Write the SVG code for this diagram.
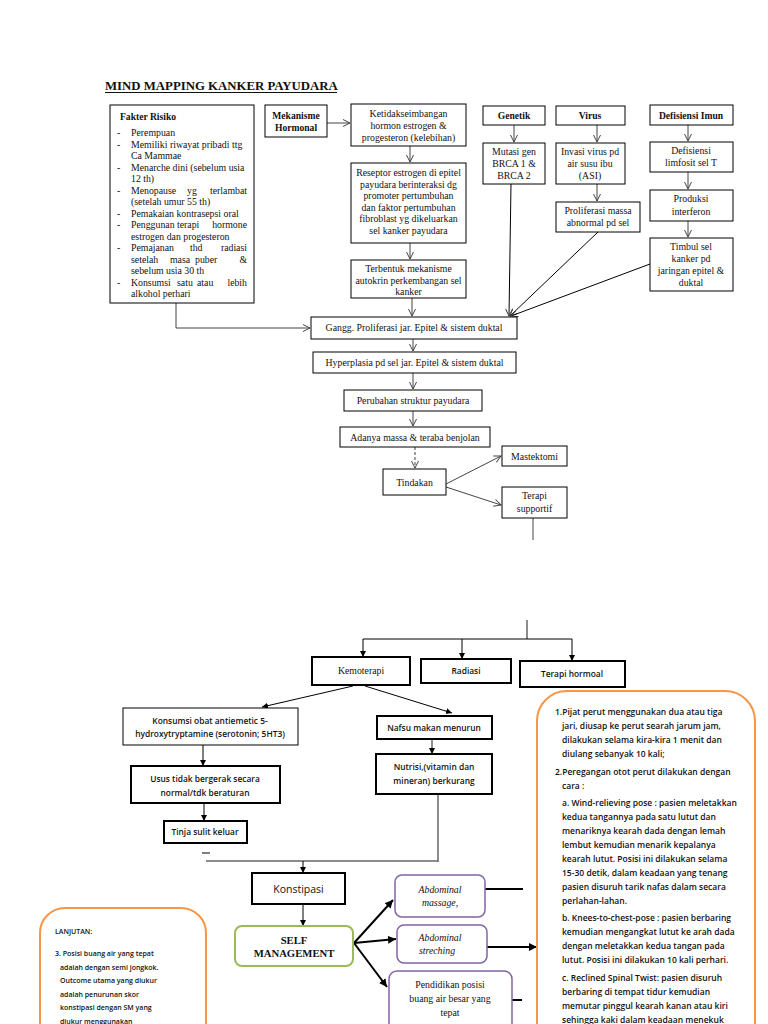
<svg xmlns="http://www.w3.org/2000/svg" width="768" height="1024" viewBox="0 0 768 1024">
<defs>
<style>
.bx{fill:#fff;stroke:#000;stroke-width:1}
.bx2{fill:#fff;stroke:#000;stroke-width:2}
.s{font-family:"Liberation Serif",serif;font-size:9.8px;fill:#111}
.sb{font-family:"Liberation Serif",serif;font-size:9.6px;font-weight:bold;fill:#111}
.c{text-anchor:middle}
.k{font-family:"Open Sans","Liberation Sans",sans-serif;font-weight:600;font-size:8.4px;fill:#111}
.ko{font-family:"Open Sans","Liberation Sans",sans-serif;font-weight:600;font-size:8.5px;fill:#111}
.kl{font-family:"Open Sans","Liberation Sans",sans-serif;font-weight:600;font-size:7px;fill:#111}
.ln{fill:none;stroke:#444;stroke-width:1}
.lb{fill:none;stroke:#000;stroke-width:1}
.lg{fill:none;stroke:#666;stroke-width:1.5}
.lt{fill:none;stroke:#000;stroke-width:2}
.or{fill:#fff;stroke:#f79646;stroke-width:2}
.pu{fill:#fff;stroke:#8064a2;stroke-width:1.5}
</style>
<marker id="av" markerUnits="userSpaceOnUse" markerWidth="10" markerHeight="10" refX="7" refY="4" orient="auto">
<path d="M0,0.5 L7,4 L0,7.5" fill="none" stroke="#444" stroke-width="1"/>
</marker>
<marker id="af" markerUnits="userSpaceOnUse" markerWidth="8" markerHeight="8" refX="6" refY="3" orient="auto">
<path d="M0,0 L6,3 L0,6 z" fill="#000"/>
</marker>
<marker id="ab" markerUnits="userSpaceOnUse" markerWidth="10" markerHeight="10" refX="8" refY="4" orient="auto">
<path d="M0,0 L8,4 L0,8 z" fill="#000"/>
</marker>
</defs>
<rect width="768" height="1024" fill="#fff"/>

<g id="title">
<text x="105" y="90" font-family="Liberation Serif, serif" font-size="12.8" font-weight="bold" fill="#111">MIND MAPPING KANKER PAYUDARA</text>
<line x1="105" y1="92.5" x2="337" y2="92.5" stroke="#111" stroke-width="1"/>
</g>

<g id="connectors">
<polyline class="ln" points="176,303 176,328 310,328" marker-end="url(#av)"/>
<line class="ln" x1="327" y1="123" x2="350" y2="123" marker-end="url(#av)"/>
<line class="ln" x1="410" y1="146" x2="410" y2="162" marker-end="url(#av)"/>
<line class="ln" x1="410" y1="243" x2="410" y2="259" marker-end="url(#av)"/>
<line class="ln" x1="412" y1="298" x2="412" y2="316" marker-end="url(#av)"/>
<line class="ln" x1="413" y1="339" x2="413" y2="351" marker-end="url(#av)"/>
<line class="ln" x1="413" y1="373" x2="413" y2="389" marker-end="url(#av)"/>
<line class="ln" x1="413" y1="411" x2="413" y2="426" marker-end="url(#av)"/>
<line class="ln" x1="415" y1="447" x2="415" y2="468" stroke-dasharray="3,2" marker-end="url(#av)"/>
<line class="ln" x1="446" y1="484" x2="501" y2="456" marker-end="url(#av)"/>
<line class="ln" x1="446" y1="487" x2="501" y2="505" marker-end="url(#av)"/>
<line class="ln" x1="533" y1="518" x2="533" y2="540"/>
<line class="ln" x1="514" y1="125" x2="514" y2="142" marker-end="url(#av)"/>
<line class="ln" x1="597" y1="125" x2="597" y2="142" marker-end="url(#av)"/>
<line class="ln" x1="597" y1="184" x2="597" y2="201" marker-end="url(#av)"/>
<line class="ln" x1="688" y1="125" x2="688" y2="141" marker-end="url(#av)"/>
<line class="ln" x1="688" y1="172" x2="688" y2="189" marker-end="url(#av)"/>
<line class="ln" x1="688" y1="221" x2="688" y2="237" marker-end="url(#av)"/>
<line class="lb" x1="511" y1="184" x2="509" y2="316" marker-end="url(#av)"/>
<line class="lb" x1="598" y1="232" x2="510" y2="316" marker-end="url(#av)"/>
<line class="lb" x1="650" y1="264" x2="511" y2="316" marker-end="url(#av)"/>

<line class="lg" x1="527" y1="620" x2="527" y2="639"/>
<line class="lb" x1="363" y1="639" x2="572" y2="639" stroke="#555"/>
<line class="lb" x1="363" y1="639" x2="363" y2="657" marker-end="url(#af)"/>
<line class="lb" x1="462" y1="639" x2="462" y2="659" marker-end="url(#af)"/>
<line class="lb" x1="572" y1="639" x2="572" y2="661" marker-end="url(#af)"/>
<line class="lb" x1="353" y1="686" x2="262" y2="707" marker-end="url(#af)"/>
<line class="lb" x1="365" y1="686" x2="452" y2="713" marker-end="url(#af)"/>
<line class="lb" x1="203" y1="745" x2="203" y2="766" stroke="#333" marker-end="url(#af)"/>
<line class="lb" x1="204" y1="803" x2="204" y2="821" stroke="#333" marker-end="url(#af)"/>
<line class="lg" x1="432" y1="739" x2="432" y2="754" stroke="#999" marker-end="url(#af)"/>
<line class="lg" x1="438" y1="794" x2="438" y2="862"/>
<line class="lg" x1="206" y1="861" x2="438" y2="861"/>
<line class="lb" x1="202" y1="853" x2="210" y2="853"/>
<line class="lb" x1="303" y1="861" x2="303" y2="873" marker-end="url(#af)"/>
<line class="lb" x1="303" y1="904" x2="303" y2="926" stroke-width="1.5" marker-end="url(#af)"/>
<line class="lt" x1="354" y1="943" x2="393" y2="900" marker-end="url(#ab)"/>
<line class="lt" x1="354" y1="943" x2="396" y2="939" marker-end="url(#ab)"/>
<line class="lt" x1="354" y1="943" x2="387" y2="987" marker-end="url(#ab)"/>
<line class="lt" x1="485" y1="889" x2="523" y2="889"/>
<line class="lt" x1="468" y1="947" x2="537" y2="947" marker-end="url(#ab)"/>
<line class="lt" x1="512" y1="1000" x2="522" y2="1000"/>
</g>

<g id="faktor-risiko">
<rect class="bx" x="110" y="105" width="144" height="198"/>
<text class="sb" x="120" y="120">Fakter Risiko</text>
<g class="s" font-size="10">
<text x="117" y="136">-</text><text x="131" y="136">Perempuan</text>
<text x="117" y="147.5">-</text><text x="131" y="147.5">Memiliki riwayat pribadi ttg</text>
<text x="131" y="159">Ca Mammae</text>
<text x="117" y="170.5">-</text><text x="131" y="170.5">Menarche dini (sebelum usia</text>
<text x="131" y="182">12 th)</text>
<text x="117" y="193.5">-</text><text x="131" y="193.5">Menopause</text><text x="187" y="193.5">yg</text><text x="247" y="193.5" text-anchor="end">terlambat</text>
<text x="131" y="205">(setelah umur 55 th)</text>
<text x="117" y="216.5">-</text><text x="131" y="216.5">Pemakaian kontrasepsi oral</text>
<text x="117" y="228">-</text><text x="131" y="228">Penggunan</text><text x="177" y="228">terapi</text><text x="247" y="228" text-anchor="end">hormone</text>
<text x="131" y="239.5">estrogen dan progesteron</text>
<text x="117" y="251">-</text><text x="131" y="251">Pemajanan</text><text x="190" y="251">thd</text><text x="247" y="251" text-anchor="end">radiasi</text>
<text x="131" y="262.5">setelah</text><text x="170" y="262.5">masa</text><text x="195" y="262.5">puber</text><text x="247" y="262.5" text-anchor="end">&amp;</text>
<text x="131" y="274">sebelum usia 30 th</text>
<text x="117" y="285.5">-</text><text x="131" y="285.5">Konsumsi</text><text x="177" y="285.5">satu</text><text x="197" y="285.5">atau</text><text x="247" y="285.5" text-anchor="end">lebih</text>
<text x="131" y="297">alkohol perhari</text>
</g>
</g>

<g id="mekanisme-hormonal">
<rect class="bx" x="265" y="105" width="62" height="32"/>
<text class="sb c" x="296" y="119">Mekanisme</text>
<text class="sb c" x="296" y="131">Hormonal</text>
</g>

<g id="ketidakseimbangan">
<rect class="bx" x="351" y="104" width="115" height="42"/>
<text class="s c" x="408.5" y="117">Ketidakseimbangan</text>
<text class="s c" x="408.5" y="129">hormon estrogen &amp;</text>
<text class="s c" x="408.5" y="141">progesteron (kelebihan)</text>
</g>

<g id="reseptor">
<rect class="bx" x="351" y="163" width="115" height="80"/>
<text class="s c" x="408.5" y="176">Reseptor estrogen di epitel</text>
<text class="s c" x="408.5" y="187.5">payudara berinteraksi dg</text>
<text class="s c" x="408.5" y="199">promoter pertumbuhan</text>
<text class="s c" x="408.5" y="210.5">dan faktor pertumbuhan</text>
<text class="s c" x="408.5" y="222">fibroblast yg dikeluarkan</text>
<text class="s c" x="408.5" y="233.5">sel kanker payudara</text>
</g>

<g id="terbentuk">
<rect class="bx" x="351" y="260" width="115" height="38"/>
<text class="s c" x="408.5" y="272">Terbentuk mekanisme</text>
<text class="s c" x="408.5" y="283.5">autokrin perkembangan sel</text>
<text class="s c" x="408.5" y="295">kanker</text>
</g>

<g id="genetik">
<rect class="bx" x="483" y="106" width="62" height="19"/>
<text class="sb c" x="514" y="119">Genetik</text>
</g>
<g id="mutasi">
<rect class="bx" x="483" y="143" width="62" height="41"/>
<text class="s c" x="514" y="155" font-size="10.5">Mutasi gen</text>
<text class="s c" x="514" y="167" font-size="10.5">BRCA 1 &amp;</text>
<text class="s c" x="514" y="179" font-size="10.5">BRCA 2</text>
</g>
<g id="virus">
<rect class="bx" x="556" y="106" width="69" height="19"/>
<text class="sb c" x="590" y="119">Virus</text>
</g>
<g id="invasi">
<rect class="bx" x="556" y="143" width="69" height="41"/>
<text class="s c" x="590" y="155">Invasi virus pd</text>
<text class="s c" x="590" y="167">air susu ibu</text>
<text class="s c" x="590" y="179">(ASI)</text>
</g>
<g id="proliferasi">
<rect class="bx" x="556" y="202" width="84" height="30"/>
<text class="s c" x="598" y="214">Proliferasi massa</text>
<text class="s c" x="598" y="226">abnormal pd sel</text>
</g>
<g id="defisiensi-imun">
<rect class="bx" x="650" y="105" width="83" height="20"/>
<text class="sb c" x="691" y="118.5">Defisiensi Imun</text>
</g>
<g id="defisiensi-limfosit">
<rect class="bx" x="650" y="142" width="83" height="30"/>
<text class="s c" x="691" y="154">Defisiensi</text>
<text class="s c" x="691" y="166">limfosit sel T</text>
</g>
<g id="produksi">
<rect class="bx" x="650" y="190" width="83" height="31"/>
<text class="s c" x="691" y="202">Produksi</text>
<text class="s c" x="691" y="215">interferon</text>
</g>
<g id="timbul">
<rect class="bx" x="650" y="238" width="83" height="53"/>
<text class="s c" x="691" y="250">Timbul sel</text>
<text class="s c" x="691" y="262">kanker pd</text>
<text class="s c" x="691" y="274">jaringan epitel &amp;</text>
<text class="s c" x="691" y="286">duktal</text>
</g>

<g id="gangg">
<rect class="bx" x="311" y="317" width="206" height="22"/>
<text class="s c" x="414" y="331">Gangg. Proliferasi jar. Epitel &amp; sistem duktal</text>
</g>
<g id="hyperplasia">
<rect class="bx" x="313" y="352" width="203" height="21"/>
<text class="s c" x="414.5" y="366">Hyperplasia pd sel jar. Epitel &amp; sistem duktal</text>
</g>
<g id="perubahan">
<rect class="bx" x="344" y="390" width="138" height="21"/>
<text class="s c" x="413" y="404">Perubahan struktur payudara</text>
</g>
<g id="adanya">
<rect class="bx" x="340" y="427" width="150" height="20"/>
<text class="s c" x="415" y="441">Adanya massa &amp; teraba benjolan</text>
</g>
<g id="tindakan">
<rect class="bx" x="383" y="469" width="63" height="26"/>
<text class="s c" x="414.5" y="486">Tindakan</text>
</g>
<g id="mastektomi">
<rect class="bx" x="502" y="446" width="65" height="20"/>
<text class="s c" x="534.5" y="460">Mastektomi</text>
</g>
<g id="terapi-supportif">
<rect class="bx" x="502" y="487" width="65" height="31"/>
<text class="s c" x="534.5" y="499">Terapi</text>
<text class="s c" x="534.5" y="512">supportif</text>
</g>

<g id="kemoterapi">
<rect class="bx2" x="312" y="657" width="98" height="28"/>
<text class="s c" x="361" y="674" font-size="11">Kemoterapi</text>
</g>
<g id="radiasi">
<rect class="bx2" x="421" y="659" width="90" height="24"/>
<text class="k c" x="466" y="674">Radiasi</text>
</g>
<g id="terapi-hormoal">
<rect class="bx2" x="520" y="661" width="105" height="26"/>
<text class="k c" x="572" y="677">Terapi hormoal</text>
</g>
<g id="konsumsi">
<rect class="bx" x="123" y="708" width="175" height="37"/>
<text class="k c" x="210" y="724">Konsumsi obat antiemetic 5-</text>
<text class="k c" x="210" y="737">hydroxytryptamine (serotonin; 5HT3)</text>
</g>
<g id="usus">
<rect class="bx2" x="131" y="766" width="149" height="37"/>
<text class="k c" x="205" y="782">Usus tidak bergerak secara</text>
<text class="k c" x="205" y="796">normal/tdk beraturan</text>
</g>
<g id="tinja">
<rect class="bx2" x="164" y="821" width="83" height="22"/>
<text class="k c" x="205" y="835">Tinja sulit keluar</text>
</g>
<g id="nafsu">
<rect class="bx2" x="377" y="716" width="115" height="23"/>
<text class="k c" x="434" y="731">Nafsu makan menurun</text>
</g>
<g id="nutrisi">
<rect class="bx2" x="376" y="754" width="116" height="40"/>
<text class="k c" x="434" y="770">Nutrisi,(vitamin dan</text>
<text class="k c" x="434" y="784">mineran) berkurang</text>
</g>
<g id="konstipasi">
<rect class="bx2" x="252" y="873" width="93" height="31"/>
<text x="298.5" y="893" text-anchor="middle" font-family="Open Sans, Liberation Sans, sans-serif" font-size="10.5" fill="#111">Konstipasi</text>
</g>
<g id="self-management">
<rect x="235" y="926" width="118" height="40" rx="7" fill="#fff" stroke="#9bbb59" stroke-width="2"/>
<text class="c" x="294" y="944" font-family="Liberation Serif, serif" font-weight="bold" font-size="10.7" fill="#111">SELF</text>
<text class="c" x="294" y="957" font-family="Liberation Serif, serif" font-weight="bold" font-size="10.7" fill="#111">MANAGEMENT</text>
</g>
<g id="abdominal-massage">
<rect class="pu" x="395" y="875" width="90" height="42" rx="7"/>
<text class="s c" x="440" y="893" font-style="italic" font-size="10.5">Abdominal</text>
<text class="s c" x="440" y="906" font-style="italic" font-size="10.5">massage,</text>
</g>
<g id="abdominal-streching">
<rect class="pu" x="397" y="925" width="90" height="38" rx="7"/>
<text class="s c" x="440" y="941" font-style="italic" font-size="10.5">Abdominal</text>
<text class="s c" x="437" y="954" font-style="italic" font-size="10.5">streching</text>
</g>
<g id="pendidikan">
<rect class="pu" x="389" y="971" width="123" height="62" rx="8"/>
<text class="s c" x="450" y="988" font-size="10.5">Pendidikan posisi</text>
<text class="s c" x="450" y="1002" font-size="10.5">buang air besar yang</text>
<text class="s c" x="450" y="1016" font-size="10.5">tepat</text>
</g>

<g id="catatan-kanan">
<rect class="or" x="537" y="691" width="218" height="370" rx="30"/>
<g class="ko">
<text x="555" y="715">1.Pijat perut menggunakan dua atau tiga</text>
<text x="562" y="729">jari, diusap ke perut searah jarum jam,</text>
<text x="562" y="743">dilakukan selama kira-kira 1 menit dan</text>
<text x="562" y="757">diulang sebanyak 10 kali;</text>
<text x="555" y="775">2.Peregangan otot perut dilakukan dengan</text>
<text x="562" y="789">cara :</text>
<text x="562" y="806">a. Wind-relieving pose : pasien meletakkan</text>
<text x="562" y="820">kedua tangannya pada satu lutut dan</text>
<text x="562" y="834">menariknya kearah dada dengan lemah</text>
<text x="562" y="848">lembut kemudian menarik kepalanya</text>
<text x="562" y="862">kearah lutut. Posisi ini dilakukan selama</text>
<text x="562" y="876">15-30 detik, dalam keadaan yang tenang</text>
<text x="562" y="890">pasien disuruh tarik nafas dalam secara</text>
<text x="562" y="904">perlahan-lahan.</text>
<text x="562" y="921">b. Knees-to-chest-pose : pasien berbaring</text>
<text x="562" y="935">kemudian mengangkat lutut ke arah dada</text>
<text x="562" y="949">dengan meletakkan kedua tangan pada</text>
<text x="562" y="963">lutut. Posisi ini dilakukan 10 kali perhari.</text>
<text x="562" y="981">c. Reclined Spinal Twist: pasien disuruh</text>
<text x="562" y="995">berbaring di tempat tidur kemudian</text>
<text x="562" y="1009">memutar pinggul kearah kanan atau kiri</text>
<text x="562" y="1023">sehingga kaki dalam keadaan menekuk</text>
</g>
</g>

<g id="catatan-kiri">
<rect class="or" x="40" y="908" width="166" height="150" rx="25"/>
<g class="kl">
<text x="55" y="934">LANJUTAN:</text>
<text x="55" y="956">3. Posisi buang air yang tepat</text>
<text x="60" y="969.5">adalah dengan semi jongkok.</text>
<text x="60" y="983">Outcome utama yang diukur</text>
<text x="60" y="996.5">adalah penurunan skor</text>
<text x="60" y="1010">konstipasi dengan SM yang</text>
<text x="60" y="1023.5">diukur menggunakan</text>
</g>
</g>
</svg>
